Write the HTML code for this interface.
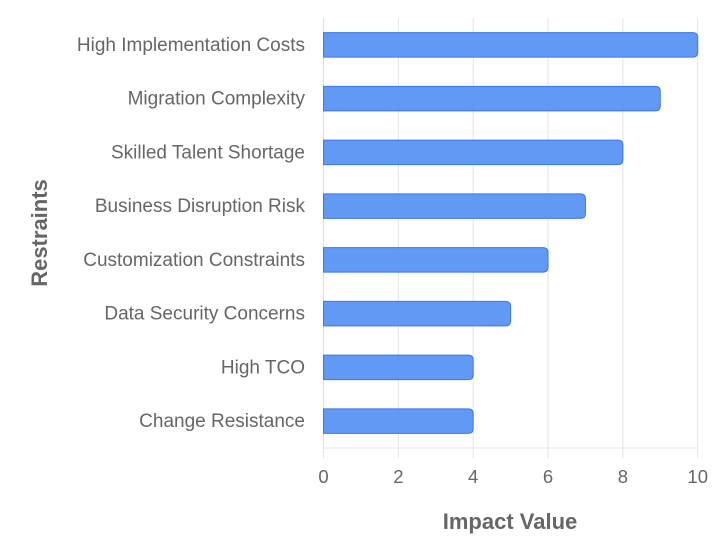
<!DOCTYPE html>
<html><head><meta charset="utf-8"><style>
body{margin:0;background:#fff;}
svg{font-family:"Liberation Sans",Arial,sans-serif;}
</style></head><body>
<svg id="chart" width="715" height="550" viewBox="0 0 715 550"></svg>
<script>
const categories=["High Implementation Costs","Migration Complexity","Skilled Talent Shortage","Business Disruption Risk","Customization Constraints","Data Security Concerns","High TCO","Change Resistance"];
const values=[10,9,8,7,6,5,4,4];
const ticks=[0,2,4,6,8,10];
const svg=document.getElementById('chart');
const NS='http://www.w3.org/2000/svg';
const L=323.5,R=697.7,T=18,B=448,maxV=10;
const xs=v=>L+(R-L)*v/maxV;
const band=(B-T)/categories.length;
const yc=i=>T+band*(i+0.5);
function mk(tag,attrs,text){const e=document.createElementNS(NS,tag);for(const k in attrs)e.setAttribute(k,attrs[k]);if(text!==undefined)e.textContent=text;svg.appendChild(e);return e;}
ticks.forEach(t=>{
 const g=mk('line',{x1:xs(t),x2:xs(t),y1:T,y2:B+10,stroke:'#e3e3e3','stroke-width':1});
 
 
 const lb=mk('text',{x:xs(t),y:483,'text-anchor':'middle','font-size':18.5,fill:'#666'},t);
 
 
});
const ax=mk('line',{x1:L,x2:R,y1:B,y2:B,stroke:'#e3e3e3','stroke-width':1});


const ay=mk('line',{x1:L,x2:L,y1:T,y2:B,stroke:'#ddd','stroke-width':1});


const h=24.5,r=5;
categories.forEach((c,i)=>{
 const y0=yc(i)-h/2,x1=xs(values[i]);
 const d=`M${L},${y0} H${x1-r} Q${x1},${y0} ${x1},${y0+r} V${y0+h-r} Q${x1},${y0+h} ${x1-r},${y0+h} H${L} Z`;
 const b=mk('path',{d:d,fill:'rgba(80,142,244,0.9)',stroke:'#3b78e7','stroke-width':1});
 
 
 const lb=mk('text',{x:305,y:yc(i)+6,'text-anchor':'end','font-size':19,fill:'#666'},c);
 
 
});
const xt=mk('text',{x:510,y:529,'text-anchor':'middle','font-size':22,'font-weight':'bold',fill:'#666'},'Impact Value');


const yt=mk('text',{x:0,y:0,'text-anchor':'middle','font-size':22,'font-weight':'bold',fill:'#666',transform:'translate(47,233) rotate(-90)'},'Restraints');


</script>
</body></html>
